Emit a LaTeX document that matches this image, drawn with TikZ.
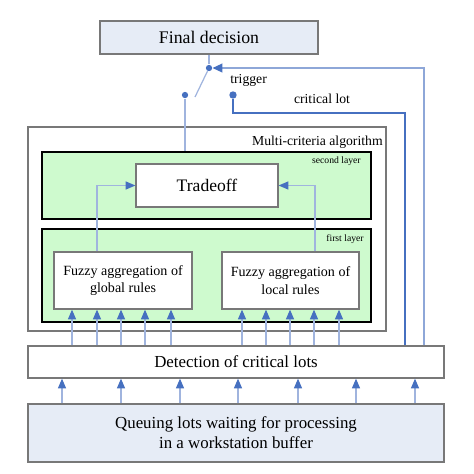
\documentclass[tikz,border=0pt]{standalone}
\usepackage{fontspec}
\setmainfont{Liberation Serif}
\usetikzlibrary{arrows.meta,positioning}
\definecolor{boxgray}{RGB}{120,120,120}
\definecolor{paleblue}{RGB}{230,236,246}
\definecolor{layergreen}{RGB}{206,250,206}
\definecolor{lineblue}{RGB}{160,180,222}
\definecolor{darkblue}{RGB}{70,112,192}

\tikzset{
  plainbox/.style={draw=boxgray, fill=white, line width=0.7pt, inner sep=0pt, align=center},
  bluebox/.style={plainbox, fill=paleblue},
  layerbox/.style={draw=black, fill=layergreen, line width=1.3pt, inner sep=0pt},
  tinylabel/.style={font=\fontsize{5.5}{6}\selectfont, anchor=east, inner sep=0pt},
  feed/.style={lineblue, line width=0.7pt, -{Triangle[length=5.6pt,width=4.6pt,color=darkblue]}},
  wire/.style={lineblue, line width=0.7pt},
  dot/.style={circle, fill=darkblue, inner sep=0pt, minimum size=3.6pt}
}

\begin{document}
\begin{tikzpicture}[x=0.02cm, y=-0.02cm]
  \useasboundingbox (0,0) rectangle (474,474);

  % outer boxes
  \node[bluebox, minimum width=4.36cm, minimum height=0.66cm,
        font=\fontsize{10.1}{12}\selectfont] (final) at (209,37.5) {Final decision};
  \node[plainbox, fill=none, minimum width=7.16cm, minimum height=4.08cm] (multi) at (207,229) {};
  \node[font=\fontsize{7.8}{10}\selectfont, anchor=east, inner sep=0pt] (multilbl) at (383,142) {Multi-criteria algorithm};

  % the two layers
  \node[layerbox, minimum width=6.58cm, minimum height=1.34cm] (second) at (206.5,185.5) {};
  \node[tinylabel] (secondlbl) at (361,161) {second layer};
  \node[plainbox, minimum width=2.84cm, minimum height=0.86cm,
        font=\fontsize{10}{12}\selectfont] (trade) at (207,185.5) {Tradeoff};

  \node[layerbox, minimum width=6.58cm, minimum height=1.86cm] (first) at (206.5,275.5) {};
  \node[tinylabel] (firstlbl) at (364,239) {first layer};
  \node[plainbox, minimum width=2.76cm, minimum height=1.14cm,
        font=\fontsize{8}{10}\selectfont] (glob) at (123,280.5) {Fuzzy aggregation of\\global rules};
  \node[plainbox, minimum width=2.74cm, minimum height=1.14cm,
        font=\fontsize{8}{10}\selectfont] (loc) at (290.5,280.5) {Fuzzy aggregation of\\local rules};

  \node[plainbox, minimum width=8.32cm, minimum height=0.64cm,
        font=\fontsize{9.6}{11}\selectfont] (detect) at (236,362) {Detection of critical lots};
  \node[bluebox, minimum width=8.32cm, minimum height=1.16cm,
        font=\fontsize{9.6}{11.5}\selectfont] (queue) at (236,433) {Queuing lots waiting for processing\\in a workstation buffer};

  % inputs
  \foreach \x in {62,121,180,238,298,356,415}
    \draw[feed] (queue.north -| \x,0) -- (detect.south -| \x,0);
  \foreach \x in {72,97,121,145,171}
    \draw[feed] (detect.north -| \x,0) -- (glob.south -| \x,0);
  \foreach \x in {242,266,290,314,339}
    \draw[feed] (detect.north -| \x,0) -- (loc.south -| \x,0);

  % to the tradeoff
  \draw[feed] (glob.north -| 97,0) |- (trade.west);
  \draw[feed] (loc.north -| 315,0) |- (trade.east);

  % switch
  \node[dot] (pivot) at (209,68) {};
  \node[dot] (offpin) at (185,95) {};
  \node[dot, minimum size=4.2pt] (onpin) at (233,95) {};
  \coordinate (blade) at (195,97);
  \draw[wire] (final.south -| pivot) -- (pivot);
  \draw[wire] (pivot) -- (blade);
  \draw[wire] (offpin) -- (second.north -| offpin);
  \draw[lineblue!80!darkblue, line width=0.8pt, -{Triangle[length=5.6pt,width=5pt,color=darkblue]}]
    (detect.north -| 424,0) |- (pivot);
  \draw[darkblue, line width=0.8pt] (detect.north -| 405,0) |- (onpin |- 0,113) -- (onpin);
  \node[font=\fontsize{7.8}{9}\selectfont, anchor=west, inner sep=0pt] (triglbl) at (230,80) {trigger};
  \node[font=\fontsize{7.8}{9}\selectfont, inner sep=0pt] (critlbl) at (322,99) {critical lot};
\end{tikzpicture}
\end{document}
